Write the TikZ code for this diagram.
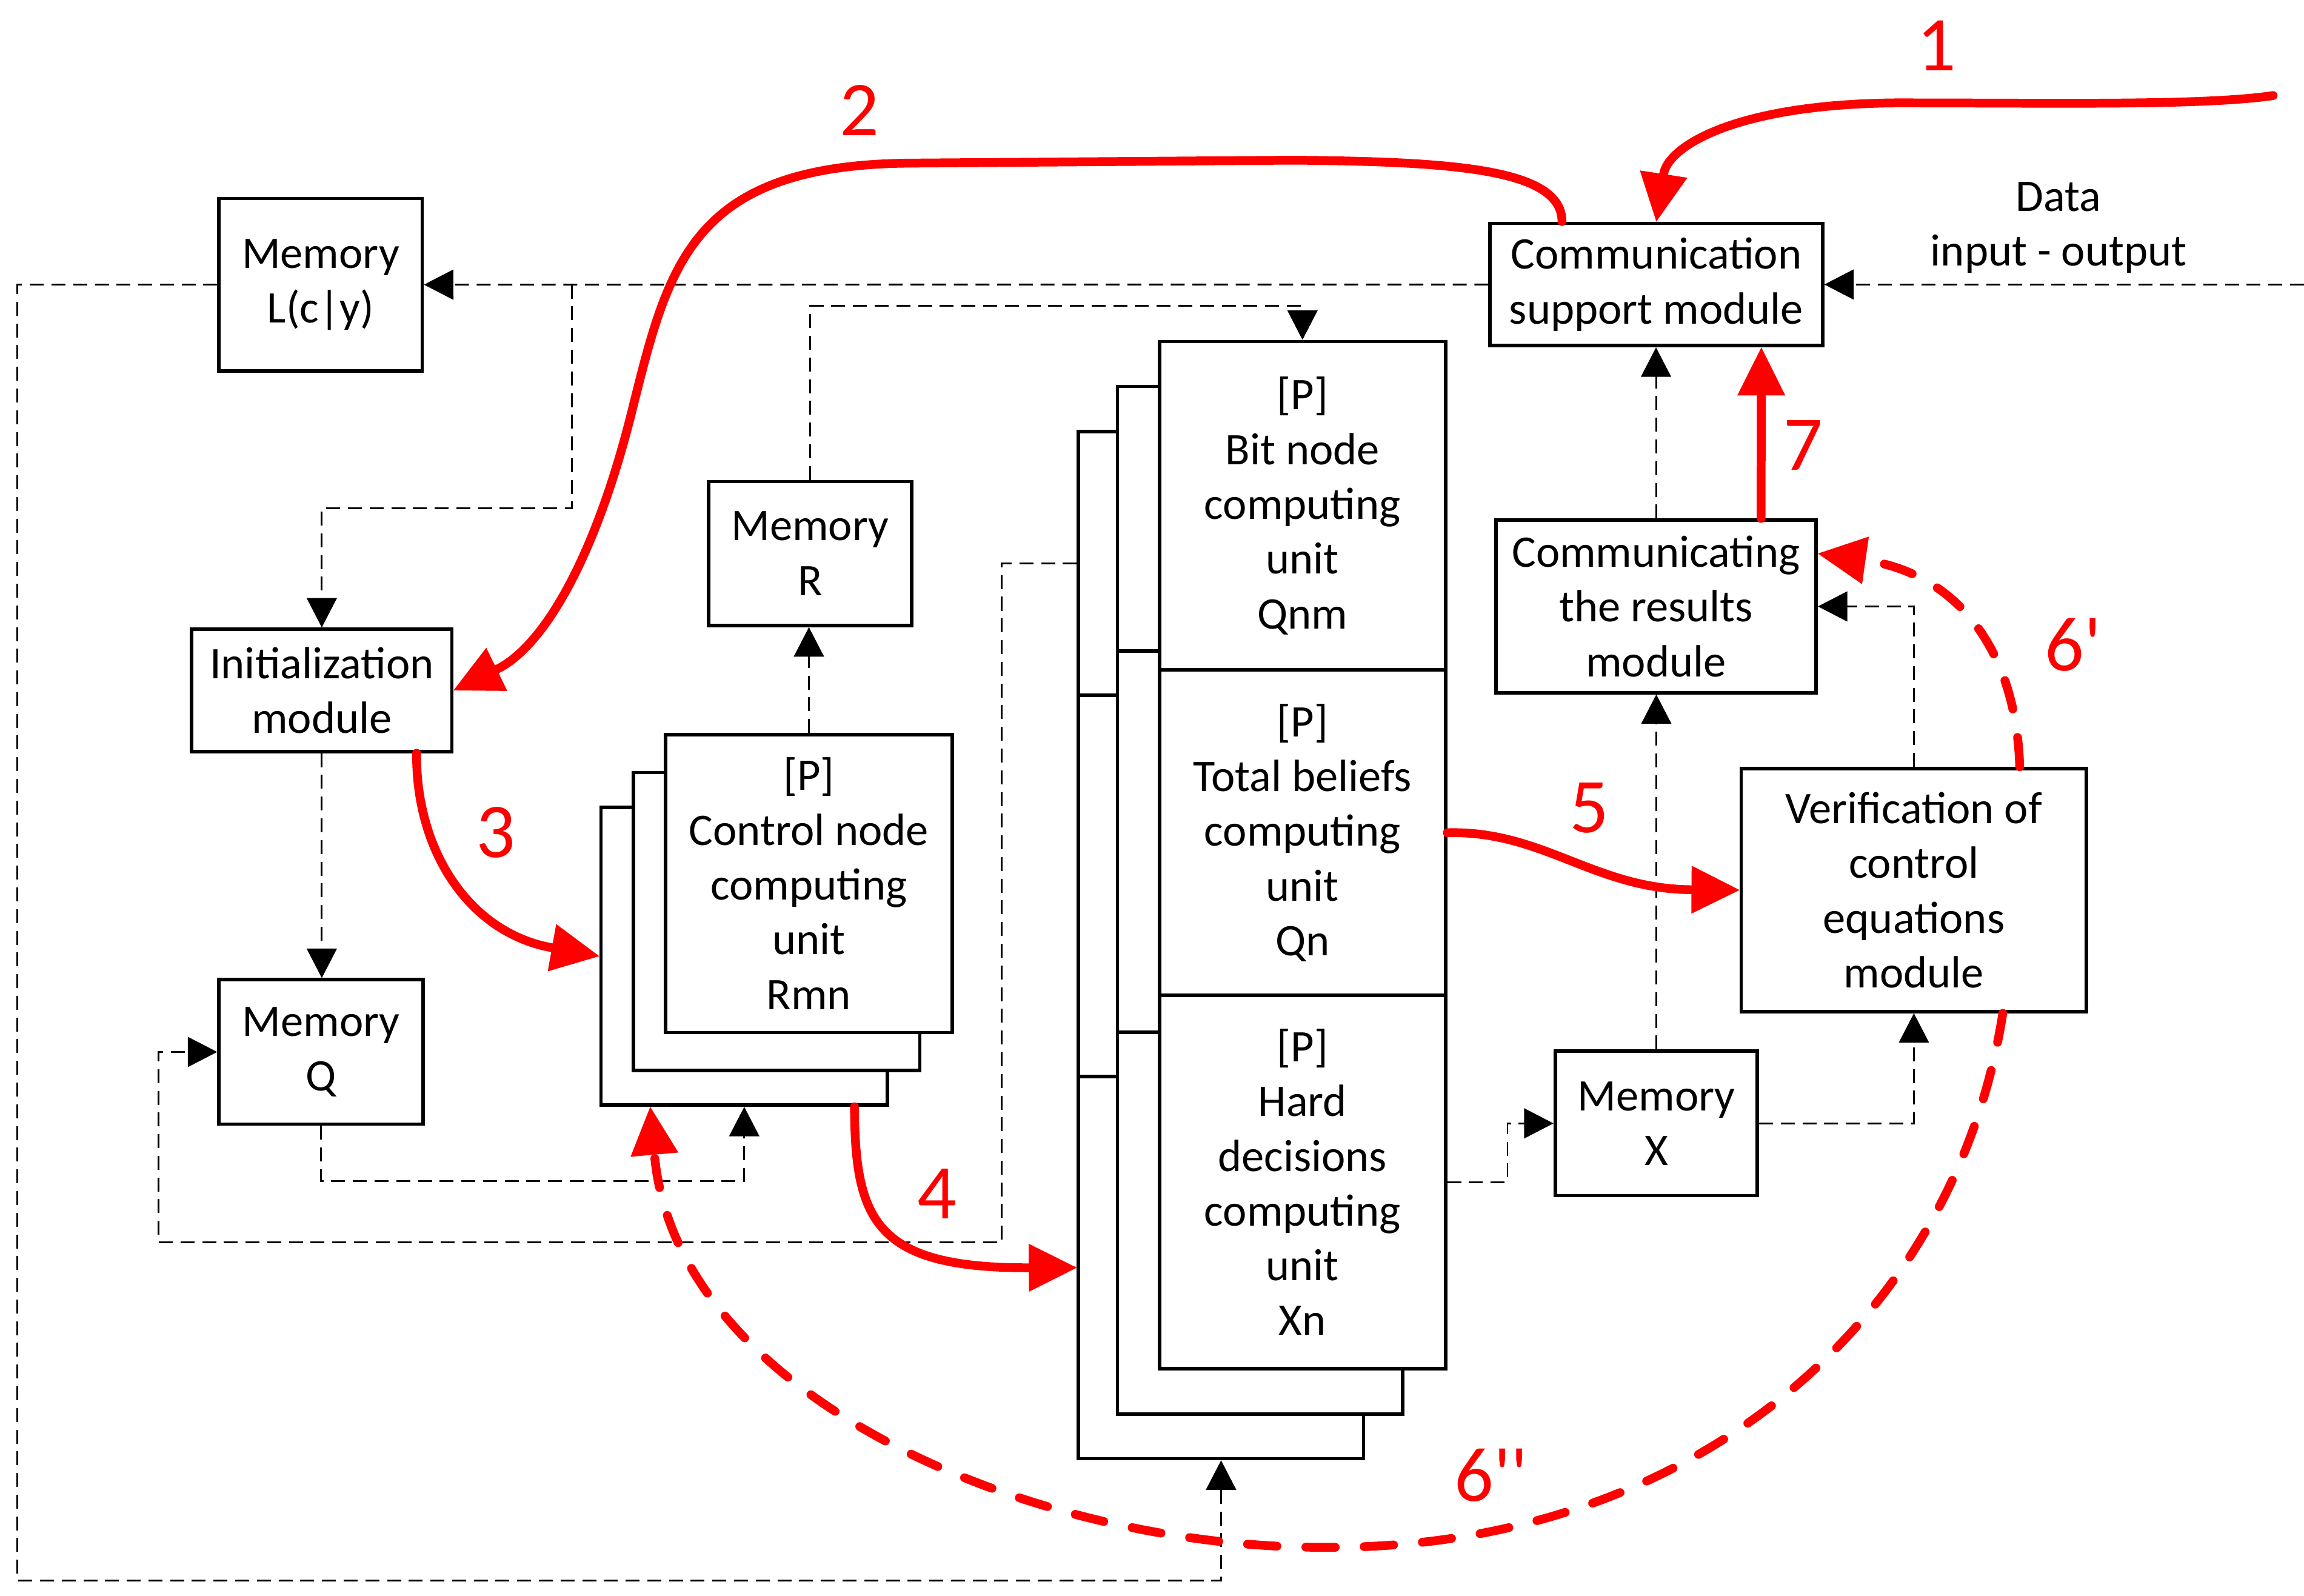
\documentclass[tikz,border=0pt]{standalone}
\usepackage{fontspec}
\setmainfont{Carlito}[Ligatures=TeXOff]
\usetikzlibrary{positioning,arrows.meta}

\begin{document}
\begin{tikzpicture}[>={Triangle[length=5.7pt,width=5.8pt]}, every node/.style={font=\fontsize{8.75}{10.6}\selectfont}]
\tikzset{
  box/.style={draw, line width=0.67pt, fill=white, align=center, inner sep=0pt},
  dline/.style={draw, line width=0.35pt, dash pattern=on 2.7pt off 1.5pt, ->},
  rline/.style={red, line width=1.7pt, line cap=round, -{Triangle[length=9.3pt,width=9.3pt,line width=0pt]}},
  rdash/.style={rline, dash pattern=on 5.7pt off 5.6pt},
  num/.style={text=red, font=\fontsize{15}{18}\selectfont}
}
\useasboundingbox (0,0) rectangle (15.68,-10.858);

% modules
\node[box, minimum width=1.383cm, minimum height=1.172cm] (memL) at (2.182,-1.937) {Memory\\L(c|y)};
\node[box, minimum width=2.263cm, minimum height=0.833cm] (comm) at (11.272,-1.936) {Communication\\support module};
\node[box, minimum width=1.77cm, minimum height=0.832cm] (init) at (2.19,-4.698) {Initialization\\module};
\node[box, minimum width=1.39cm, minimum height=0.983cm] (memQ) at (2.185,-7.159) {Memory\\Q};
\node[box, minimum width=1.381cm, minimum height=0.979cm] (memR) at (5.513,-3.767) {Memory\\R};
\node[box, minimum width=1.376cm, minimum height=0.983cm] (memX) at (11.272,-7.645) {Memory\\X};
\node[box, minimum width=2.18cm, minimum height=1.174cm] (res) at (11.27,-4.127) {Communicating\\the results\\module};
\node[box, minimum width=2.35cm, minimum height=1.654cm] (verif) at (13.025,-6.057) {Verification of\\control\\equations\\module};
\node[align=center] (data) at (14.01,-1.55) {Data\\input - output};

% control node stack
\node[box, minimum width=1.95cm, minimum height=2.027cm] (c3) at (5.065,-6.507) {};
\node[box, minimum width=1.95cm, minimum height=2.027cm] (c2) at (5.285,-6.271) {};
\node[box, minimum width=1.95cm, minimum height=2.027cm] (c1) at (5.505,-6.013) {[P]\\Control node\\computing\\unit\\Rmn};

% bit node stack
\node[box, minimum width=1.94cm, minimum height=1.794cm] (b3) at (8.31,-3.833) {};
\node[box, minimum width=1.94cm, minimum height=2.597cm] (t3) at (8.31,-6.029) {};
\node[box, minimum width=1.94cm, minimum height=2.599cm] (h3) at (8.31,-8.627) {};
\node[box, minimum width=1.94cm, minimum height=1.80cm] (b2) at (8.575,-3.53) {};
\node[box, minimum width=1.94cm, minimum height=2.595cm] (t2) at (8.575,-5.728) {};
\node[box, minimum width=1.94cm, minimum height=2.60cm] (h2) at (8.575,-8.325) {};
\node[box, minimum width=1.947cm, minimum height=2.235cm] (bit) at (8.864,-3.442) {[P]\\Bit node\\computing\\unit\\Qnm};
\node[box, minimum width=1.947cm, minimum height=2.215cm] (tot) at (8.864,-5.667) {[P]\\Total beliefs\\computing\\unit\\Qn};
\node[box, minimum width=1.947cm, minimum height=2.541cm] (hard) at (8.864,-8.045) {[P]\\Hard\\decisions\\computing\\unit\\Xn};

% data connectors
\coordinate (din) at (15.68,-1.936);
\coordinate (lc) at (0.119,-10.757);
\coordinate (jn) at (3.893,-1.937);
\coordinate (lq) at (1.08,-8.456);
\draw[dline] (din) -- (comm.east);
\draw[dline] (comm.west) -- (memL.east);
\draw[dline] (memL.west) -| (lc) -| (h3.south);
\draw[dline] (jn) -- ++(0,-1.522) -| (init.north);
\draw[dline] (init.south) -- (init.south |- memQ.north);
\draw[dline] (memQ.south) -- ++(0,-0.374) -| (c3.south);
\draw[dline] (b3.west) -- ++(-0.51,0) |- (lq) |- (memQ.west);
\draw[dline] (c1.north) -- (c1.north |- memR.south);
\draw[dline] (memR.north) -- ++(0,1.184) -| (bit.north);
\draw[dline] (hard.east) -- ++(0.41,0) |- (memX.west);
\draw[dline] (memX.north) -- (memX.north |- res.south);
\draw[dline] (res.north) -- (res.north |- comm.south);
\draw[dline] (memX.east) -| (verif.south);
\draw[dline] (verif.north) |- (res.east);

% processing order
\coordinate (s1) at (15.47,-0.65);
\draw[rline] (s1) .. controls (15.0,-0.72) and (14.0,-0.70) .. (12.9,-0.70)
  .. controls (11.8,-0.71) and (11.35,-1.0) .. (comm.north);
\draw[rline] ([xshift=-6.42mm]comm.north) .. controls (10.63,-1.15) and (9.9,-1.10) .. (8.8,-1.09)
  -- (6.2,-1.11) .. controls (4.7,-1.12) and (4.55,-1.80) .. (4.30,-2.80)
  .. controls (4.05,-3.80) and (3.70,-4.40) .. (init.east);
\draw[rline] ([xshift=6.45mm]init.south) .. controls (2.83,-5.8) and (3.2,-6.35) .. (c3.west);
\draw[rline] ([xshift=7.5mm]c3.south) .. controls (5.82,-8.3) and (5.95,-8.63) .. (h3.west);
\draw[rline] (tot.east) .. controls (10.5,-5.65) and (10.85,-6.05) .. (verif.west);
\draw[rdash] ([xshift=7.2mm]verif.north) .. controls (13.72,-4.4) and (13.3,-3.9) .. ([yshift=3.6mm]res.east);
\draw[rdash] ([xshift=6.05mm]verif.south) .. controls (13.3,-9.0) and (11.5,-10.55) .. (9.0,-10.53)
  .. controls (7.0,-10.53) and (4.6,-9.5) .. ([xshift=-6.4mm]c3.south);
\draw[rline] ([xshift=7.15mm]res.north) -- ([xshift=7.15mm]comm.south);

\node[num] (l1) at (13.18,-0.31) {1};
\node[num] (l2) at (5.85,-0.75) {2};
\node[num] (l3) at (3.375,-5.667) {3};
\node[num] (l4) at (6.376,-8.126) {4};
\node[num] (l5) at (10.816,-5.497) {5};
\node[num] (l6a) at (14.11,-4.389) {6'};
\node[num] (l6b) at (10.15,-10.04) {6''};
\node[num] (l7) at (12.273,-3.03) {7};
\end{tikzpicture}
\end{document}
